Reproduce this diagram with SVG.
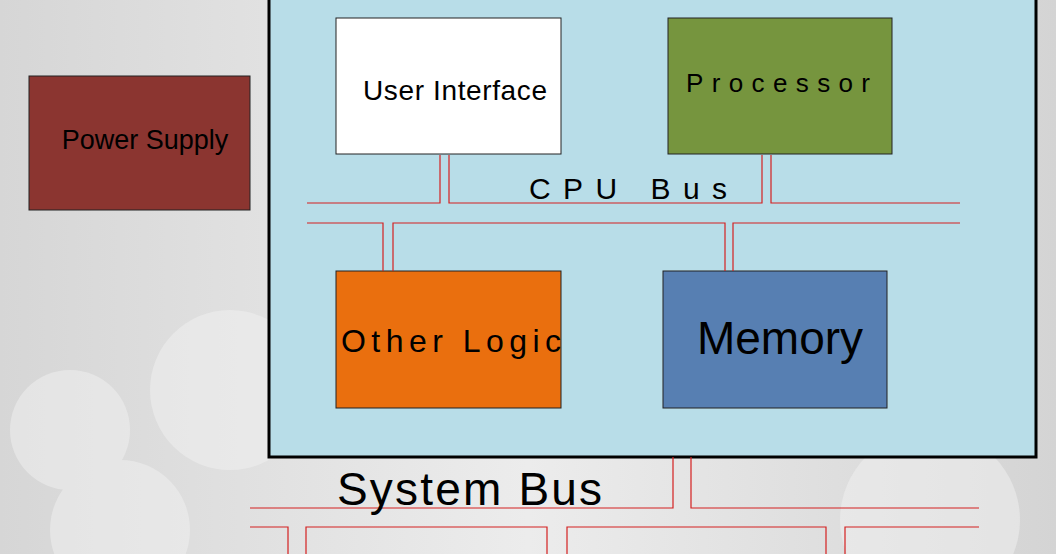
<svg xmlns="http://www.w3.org/2000/svg" width="1056" height="554" viewBox="0 0 1056 554">
<style>
.bx{stroke:#222;stroke-width:1}
.bus{fill:none;stroke:#d42020;stroke-width:1.2}
text{font-family:"Liberation Sans",Arial,sans-serif;fill:#000}
</style>
<defs><linearGradient id="bg" x1="0" y1="0" x2="1" y2="0"><stop offset="0" stop-color="#d6d6d6"/><stop offset="0.5" stop-color="#ececec"/><stop offset="1" stop-color="#d4d4d4"/></linearGradient></defs>
<rect width="1056" height="554" fill="url(#bg)"/>
<g fill="#f2f2f2" opacity="0.5"><circle cx="70" cy="430" r="60"/><circle cx="230" cy="390" r="80"/><circle cx="120" cy="530" r="70"/><circle cx="930" cy="520" r="90"/></g>
<g id="cpu"><rect x="269" y="-3" width="767" height="460" fill="#b8dde8" stroke="#000" stroke-width="3"/></g>
<g id="power"><rect class="bx" x="29" y="76" width="221" height="134" fill="#8b3530"/><text x="145" y="149" font-size="27" text-anchor="middle">Power Supply</text></g>
<g id="ui"><rect class="bx" x="336" y="18" width="225" height="136" fill="#fff"/><text x="455" y="100" font-size="28" text-anchor="middle" textLength="184">User Interface</text></g>
<g id="proc"><rect class="bx" x="668" y="18" width="224" height="136" fill="#76953e"/><text x="778" y="92" font-size="26" text-anchor="middle" textLength="184">Processor</text></g>
<g id="other"><rect class="bx" x="336" y="271" width="225" height="137" fill="#ea6f0e"/><text x="451" y="352" font-size="32" text-anchor="middle" textLength="220">Other Logic</text></g>
<g id="mem"><rect class="bx" x="663" y="271" width="224" height="137" fill="#577fb2"/><text x="780" y="354" font-size="46" text-anchor="middle">Memory</text></g>
<g id="connectors">
<path class="bus" d="M307 203H440V155M449 155V203H762V155M771 155V203H960"/>
<path class="bus" d="M307 223H383V271M393 271V223H725V271M733 271V223H960"/>
<path class="bus" d="M250 508H673V457M691 457V508H979"/>
<path class="bus" d="M250 527H288V554M306 554V527H547V554M567 554V527H826V554M845 554V527H979"/>
</g>
<text x="628" y="199" font-size="30" text-anchor="middle" textLength="198">CPU Bus</text>
<text x="337" y="505" font-size="46" textLength="265">System Bus</text>
</svg>
